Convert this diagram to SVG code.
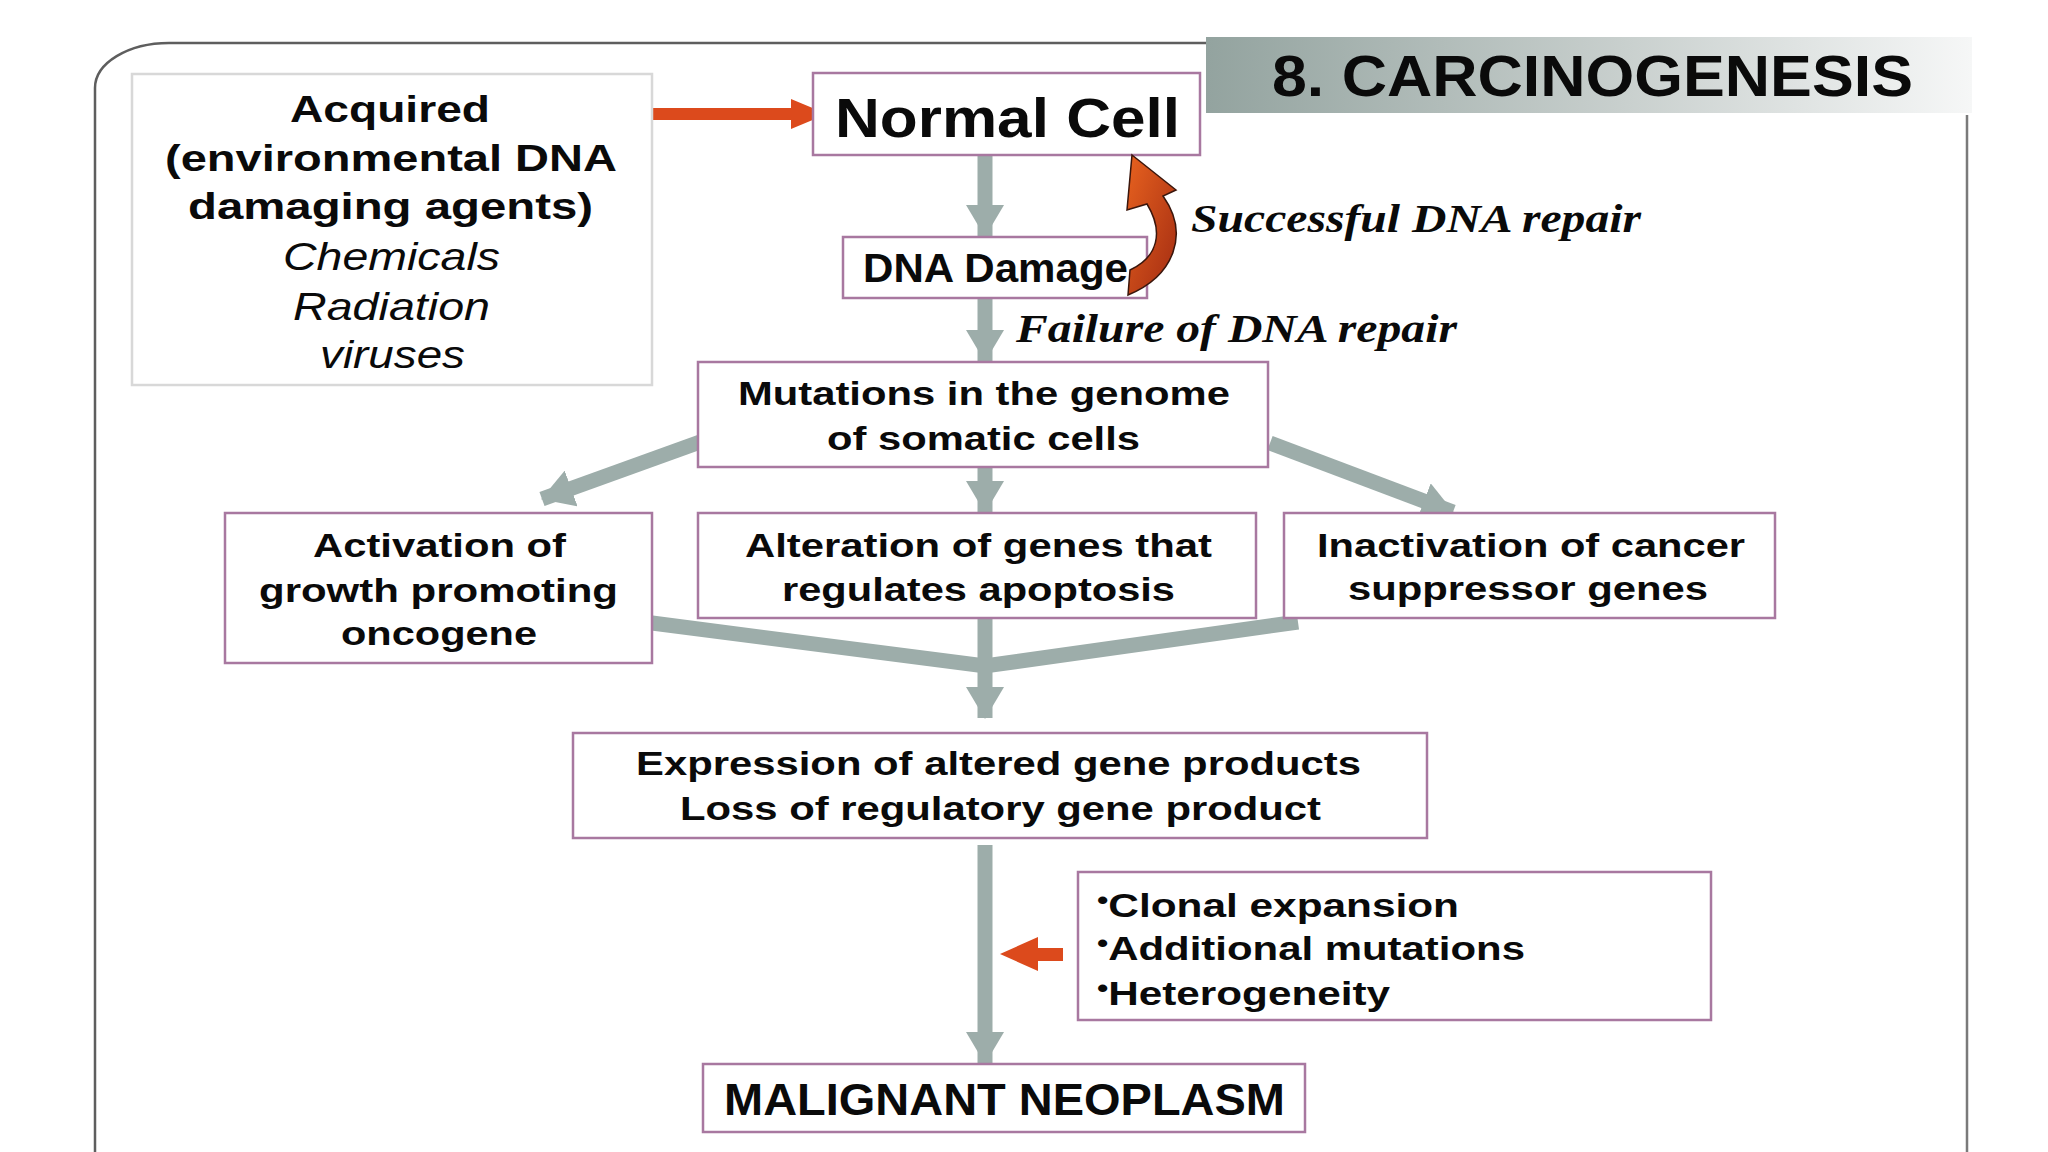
<svg xmlns="http://www.w3.org/2000/svg" width="2048" height="1152" viewBox="0 0 2048 1152">
<style>
.box{fill:#ffffff;stroke:#a878a0;stroke-width:2.5}
.lbox{fill:#ffffff;stroke:#d8d8d8;stroke-width:2.5}
.b{font-family:"Liberation Sans",Arial,sans-serif;font-weight:bold;fill:#0a0a0a}
.i{font-family:"Liberation Sans",Arial,sans-serif;font-style:italic;fill:#0a0a0a}
.s{font-family:"Liberation Serif","Times New Roman",serif;font-weight:bold;font-style:italic;fill:#0a0a0a}
.g{stroke:#9dadaa;stroke-width:15;fill:none}
.ga{stroke:#9dadaa;stroke-width:15;fill:none;marker-end:url(#gh)}
.o{fill:#dc4a1c}
.frame{fill:none;stroke:#5e5e5e;stroke-width:2.5}
</style>
<defs>
<marker id="gh" markerUnits="userSpaceOnUse" markerWidth="32" markerHeight="38" viewBox="0 0 32 38" refX="31" refY="19" orient="auto">
<path d="M0,0 L32,19 L0,38 Z" fill="#9dadaa"/>
</marker>
<linearGradient id="banner" x1="0" y1="0" x2="1" y2="0">
<stop offset="0" stop-color="#93a39f"/>
<stop offset="0.55" stop-color="#c9d0ce"/>
<stop offset="1" stop-color="#f6f7f7"/>
</linearGradient>
<linearGradient id="curv" x1="0" y1="0" x2="1" y2="1">
<stop offset="0" stop-color="#e8621f"/>
<stop offset="1" stop-color="#a32c12"/>
</linearGradient>
</defs>
<rect width="2048" height="1152" fill="#ffffff"/>
<g id="frame">
<path class="frame" d="M95,1152 V88 A74,45 0 0 1 169,43 H1206"/>
<path d="M1967,115 V1152" stroke="#7a7a7a" stroke-width="2.5" fill="none"/>
</g>
<g id="title">
<rect x="1206" y="37" width="766" height="76" fill="url(#banner)"/>
<text class="b" x="1272" y="96" font-size="57" textLength="641" lengthAdjust="spacingAndGlyphs">8. CARCINOGENESIS</text>
</g>
<g id="connectors">
<path class="o" d="M652,108 H791 V99 L827,114 L791,129 V120 H652 Z"/>
<line class="ga" x1="985" y1="155" x2="985" y2="236"/>
<line class="ga" x1="985" y1="298" x2="985" y2="361"/>
<line class="ga" x1="985" y1="467" x2="985" y2="512"/>
<line class="ga" x1="700" y1="442" x2="542" y2="499"/>
<line class="ga" x1="1270" y1="443" x2="1453" y2="512"/>
<polyline class="g" points="652,623 985,666 1298,622"/>
<line class="ga" x1="985" y1="618" x2="985" y2="718"/>
<line class="ga" x1="985" y1="845" x2="985" y2="1063"/>
<path class="o" d="M1063,948 H1038 V937 L1000,954 L1038,971 V961 H1063 Z"/>
</g>
<g id="acquired">
<rect class="lbox" x="132" y="74" width="520" height="311"/>
<text class="b" x="290" y="122" font-size="37" textLength="200" lengthAdjust="spacingAndGlyphs">Acquired</text>
<text class="b" x="165" y="171" font-size="37" textLength="452" lengthAdjust="spacingAndGlyphs">(environmental DNA</text>
<text class="b" x="188" y="219" font-size="37" textLength="405" lengthAdjust="spacingAndGlyphs">damaging agents)</text>
<text class="i" x="283" y="270" font-size="38" textLength="217" lengthAdjust="spacingAndGlyphs">Chemicals</text>
<text class="i" x="293" y="320" font-size="38" textLength="197" lengthAdjust="spacingAndGlyphs">Radiation</text>
<text class="i" x="320" y="368" font-size="38" textLength="145" lengthAdjust="spacingAndGlyphs">viruses</text>
</g>
<g id="normal-cell">
<rect class="box" x="813" y="73" width="387" height="82"/>
<text class="b" x="835" y="137" font-size="56" textLength="345" lengthAdjust="spacingAndGlyphs">Normal Cell</text>
</g>
<g id="dna-damage">
<rect class="box" x="843" y="237" width="304" height="61"/>
<text class="b" x="863" y="282" font-size="40" textLength="265" lengthAdjust="spacingAndGlyphs">DNA Damage</text>
</g>
<g id="repair-arrow">
<path d="M1132,155 L1176,190 L1163,196 C1190,234 1174,276 1128,295 L1130,270 C1158,257 1164,232 1147,204 L1127,210 Z" fill="url(#curv)" stroke="#3a160c" stroke-width="1.5"/>
<text class="s" x="1191" y="232" font-size="41" textLength="450" lengthAdjust="spacingAndGlyphs">Successful DNA repair</text>
<text class="s" x="1016" y="342" font-size="41" textLength="441" lengthAdjust="spacingAndGlyphs">Failure of DNA repair</text>
</g>
<g id="mutations">
<rect class="box" x="698" y="362" width="570" height="105"/>
<text class="b" x="738" y="405" font-size="34" textLength="492" lengthAdjust="spacingAndGlyphs">Mutations in the genome</text>
<text class="b" x="827" y="450" font-size="34" textLength="313" lengthAdjust="spacingAndGlyphs">of somatic cells</text>
</g>
<g id="activation">
<rect class="box" x="225" y="513" width="427" height="150"/>
<text class="b" x="313" y="557" font-size="34" textLength="253" lengthAdjust="spacingAndGlyphs">Activation of</text>
<text class="b" x="259" y="602" font-size="34" textLength="359" lengthAdjust="spacingAndGlyphs">growth promoting</text>
<text class="b" x="341" y="645" font-size="34" textLength="196" lengthAdjust="spacingAndGlyphs">oncogene</text>
</g>
<g id="alteration">
<rect class="box" x="698" y="513" width="558" height="105"/>
<text class="b" x="745" y="557" font-size="34" textLength="467" lengthAdjust="spacingAndGlyphs">Alteration of genes that</text>
<text class="b" x="782" y="601" font-size="34" textLength="393" lengthAdjust="spacingAndGlyphs">regulates apoptosis</text>
</g>
<g id="inactivation">
<rect class="box" x="1284" y="513" width="491" height="105"/>
<text class="b" x="1317" y="557" font-size="34" textLength="428" lengthAdjust="spacingAndGlyphs">Inactivation of cancer</text>
<text class="b" x="1348" y="600" font-size="34" textLength="360" lengthAdjust="spacingAndGlyphs">suppressor genes</text>
</g>
<g id="expression">
<rect class="box" x="573" y="733" width="854" height="105"/>
<text class="b" x="636" y="775" font-size="34" textLength="725" lengthAdjust="spacingAndGlyphs">Expression of altered gene products</text>
<text class="b" x="680" y="820" font-size="34" textLength="641" lengthAdjust="spacingAndGlyphs">Loss of regulatory gene product</text>
</g>
<g id="factors">
<rect class="box" x="1078" y="872" width="633" height="148"/>
<text class="b" x="1097" y="917" font-size="34" textLength="362" lengthAdjust="spacingAndGlyphs"><tspan font-size="26" dy="-8">•</tspan><tspan dy="8">Clonal expansion</tspan></text>
<text class="b" x="1097" y="960" font-size="34" textLength="428" lengthAdjust="spacingAndGlyphs"><tspan font-size="26" dy="-8">•</tspan><tspan dy="8">Additional mutations</tspan></text>
<text class="b" x="1097" y="1005" font-size="34" textLength="293" lengthAdjust="spacingAndGlyphs"><tspan font-size="26" dy="-8">•</tspan><tspan dy="8">Heterogeneity</tspan></text>
</g>
<g id="malignant">
<rect class="box" x="703" y="1064" width="602" height="68"/>
<text class="b" x="724" y="1115" font-size="44" textLength="561" lengthAdjust="spacingAndGlyphs">MALIGNANT NEOPLASM</text>
</g>
</svg>
